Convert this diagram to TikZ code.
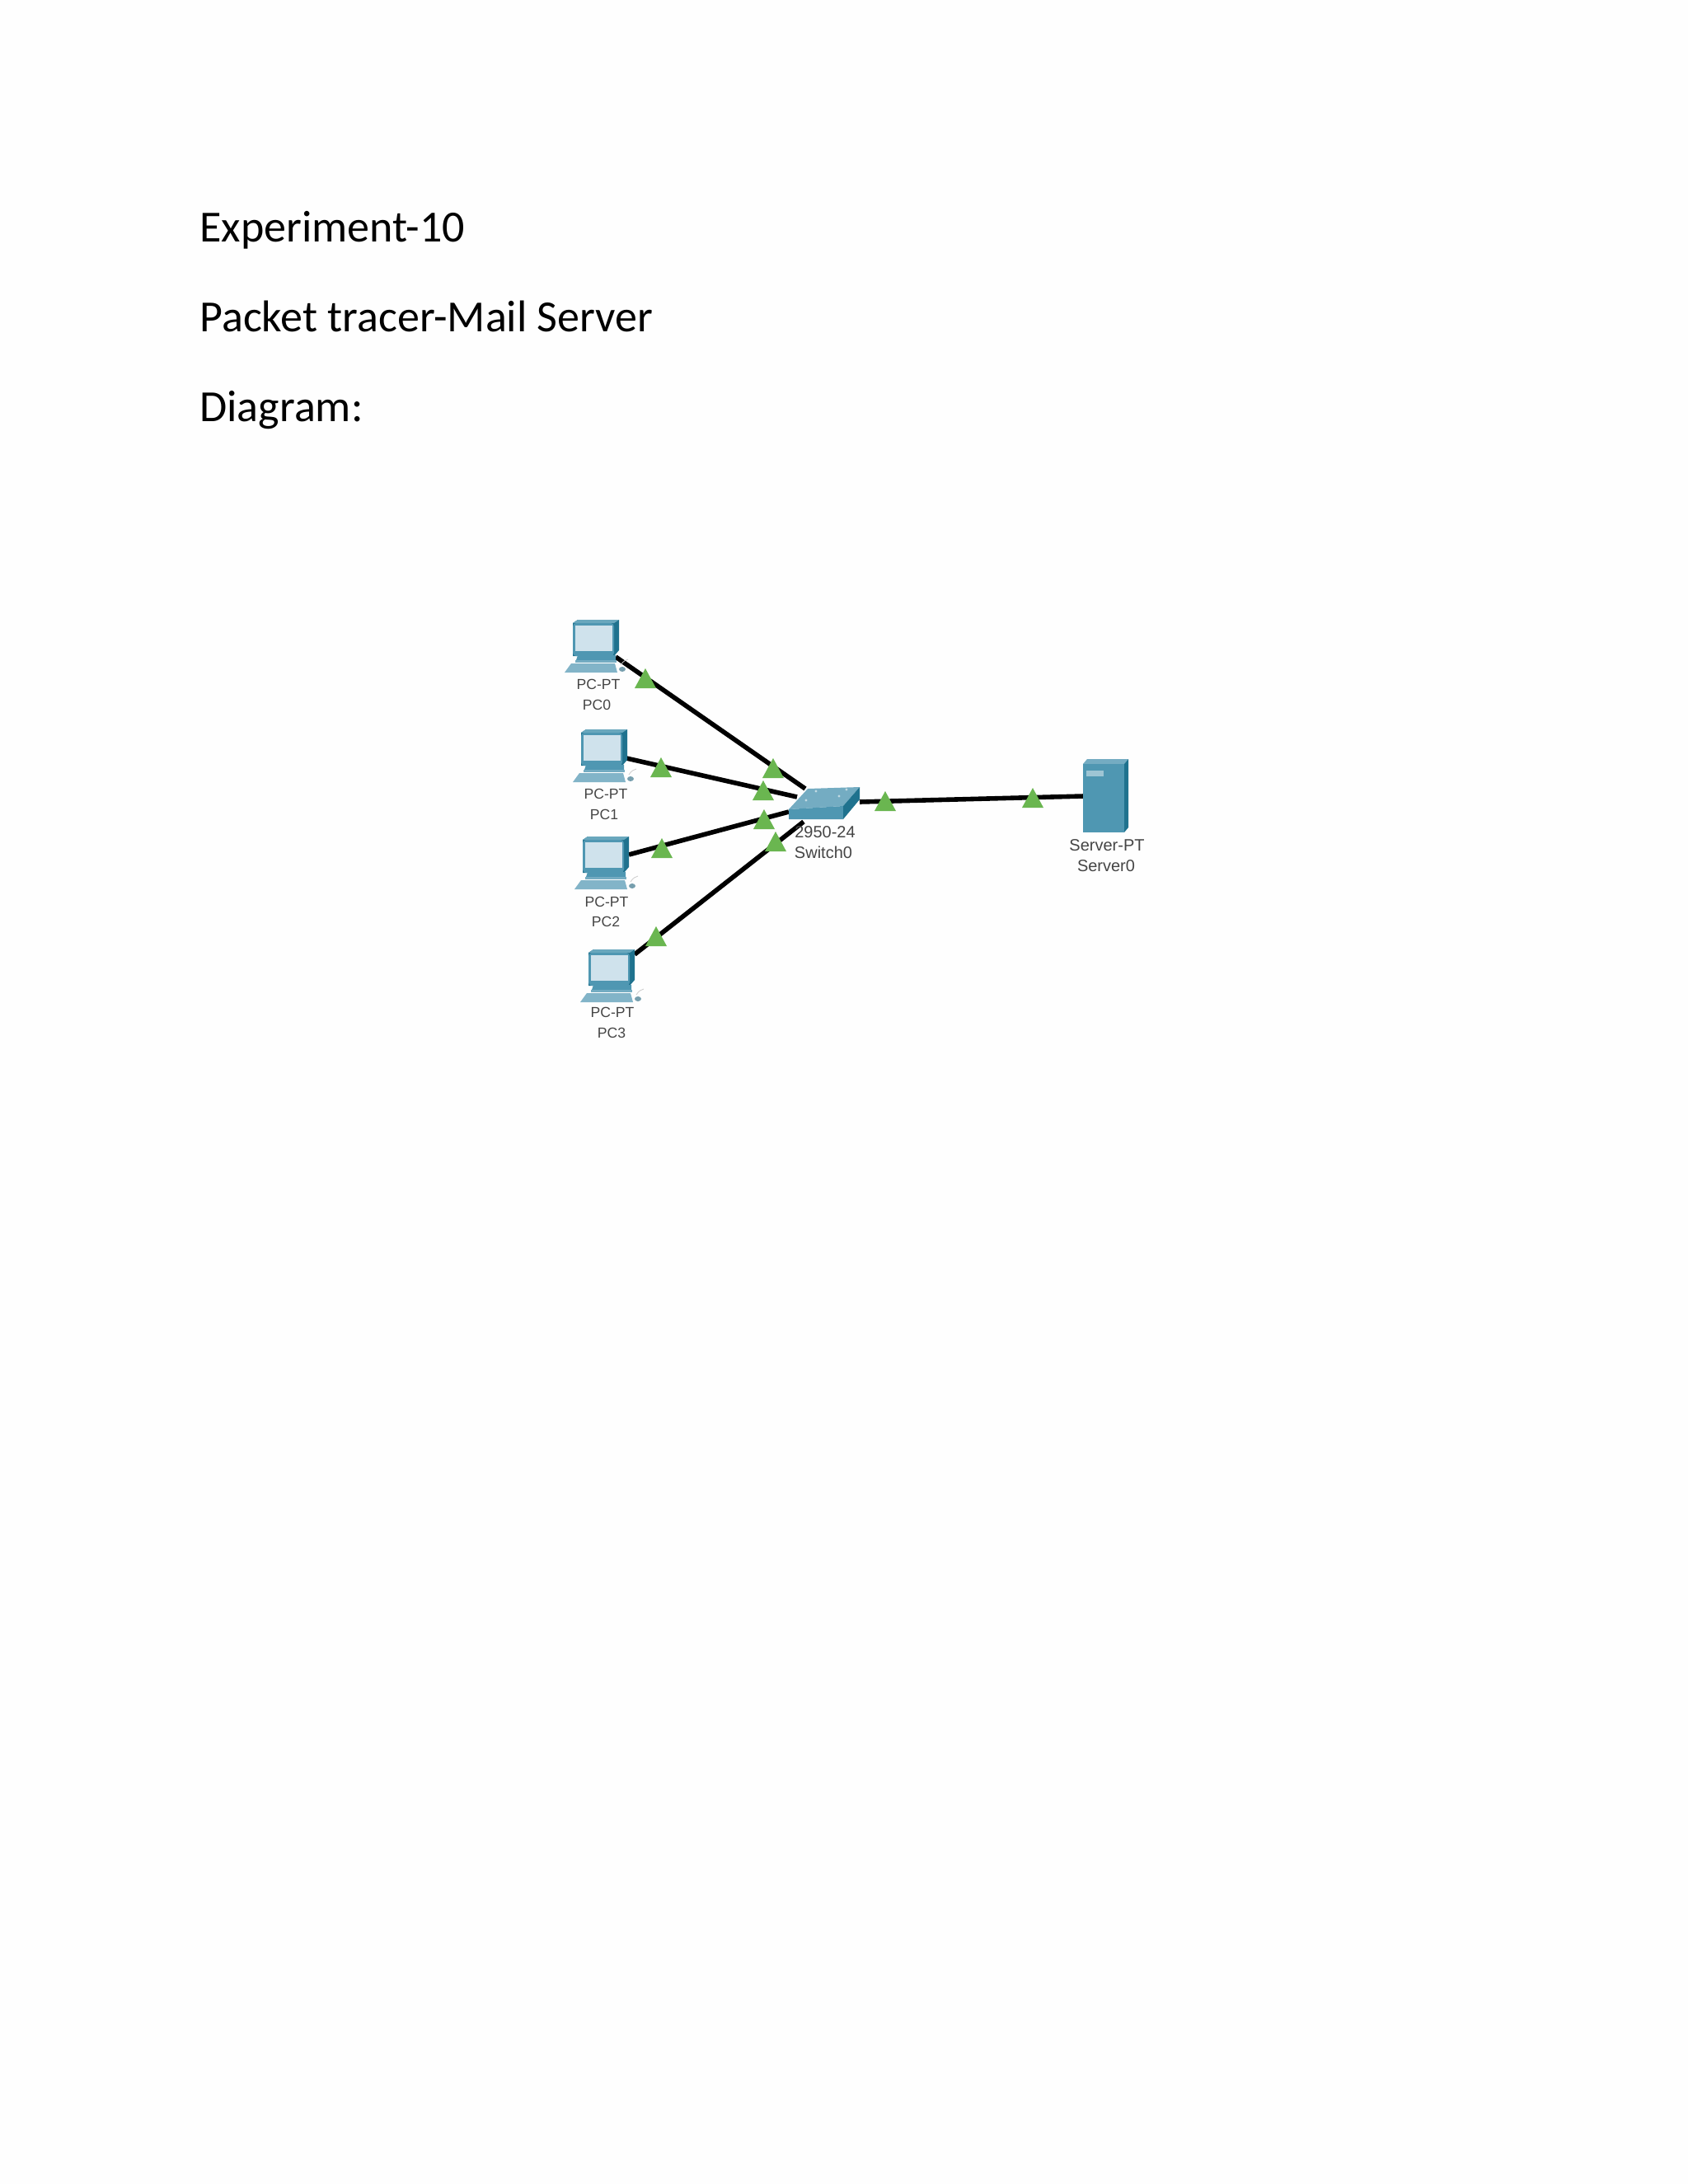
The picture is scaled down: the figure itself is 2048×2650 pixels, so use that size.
\documentclass[tikz,border=0pt]{standalone}
\usepackage{fontspec}
\setmainfont{Carlito}
\newfontfamily\lblfont{Liberation Sans}
\definecolor{pageback}{HTML}{FEFEFE}
\definecolor{bodymid}{HTML}{4F97B2}
\definecolor{bodydark}{HTML}{1F728E}
\definecolor{bodylight}{HTML}{74ACC2}
\definecolor{screenc}{HTML}{CFE2EC}
\definecolor{triang}{HTML}{6AB650}
\definecolor{lblc}{HTML}{454545}
\tikzset{
  x=0.5pt,y=-0.5pt,
  heading/.style={anchor=base west,inner sep=0pt,font=\fontsize{27pt}{34pt}\selectfont,text=black},
  devlabel/.style={inner sep=0pt,font=\lblfont\fontsize{10pt}{12pt}\selectfont,text=lblc},
  pclabel/.style={inner sep=0pt,font=\lblfont\fontsize{8.8pt}{12pt}\selectfont,text=lblc},
  cable/.style={line width=2.8pt,black},
  linkup/.pic={\fill[triang] (0,-1)--(13,23)--(-13,23)--cycle;},
  pcdev/.pic={
    \fill[bodydark] (2,4)--(8,0)--(58,0)--(58,37)--(52,44)--(2,44)--cycle;
    \fill[bodymid!85!white] (2,4)--(8,0)--(58,0)--(52,4)--cycle;
    \fill[bodymid,rounded corners=2pt] (2,4) rectangle (52,44);
    \fill[screenc] (5,7) rectangle (50,38);
    \fill[bodymid] (8,43)--(54,43)--(54,49)--(6,49)--cycle;
    \fill[bodylight] (5,49) rectangle (55,52);
    \fill[bodylight!90!white] (0,53)--(53,53)--(56,64)--(-8,64)--cycle;
    \fill[bodylight!70!gray] (62,60) ellipse (4 and 3);
    \draw[gray!40,line width=0.4pt] (60,55) .. controls (63,50) and (66,49) .. (69,48);
  }
}
\begin{document}
\begin{tikzpicture}
\useasboundingbox (0,0) rectangle (2048,2650);
\fill[pageback] (0,0) rectangle (2048,2650);

% headings
\node[heading] (h1) at (242,293) {Experiment-10};
\node[heading] (h2) at (242,402) {Packet tracer-Mail Server};
\node[heading] (h3) at (242,511) {Diagram:};

% ports
\coordinate (p0a) at (747,797);
\coordinate (p0b) at (977,957);
\coordinate (p1a) at (760,920);
\coordinate (p1b) at (967,967);
\coordinate (p2a) at (763,1037);
\coordinate (p2b) at (957,985);
\coordinate (p3a) at (770,1158);
\coordinate (p3b) at (975,997);
\coordinate (swr) at (1043,973);
\coordinate (srv) at (1315,966);

% cables
\draw[cable] (p0a) -- (p0b);
\draw[cable] (p1a) -- (p1b);
\draw[cable] (p2a) -- (p2b);
\draw[cable] (p3a) -- (p3b);
\draw[cable] (swr) -- (srv);

% PCs
\pic at (693,752) {pcdev};
\pic at (703,885) {pcdev};
\pic at (705,1015) {pcdev};
\pic at (712,1152) {pcdev};

% switch
\fill[bodylight] (957,982)--(980,957)--(1043,955)--(1023,978)--cycle;
\fill[bodymid] (957,982)--(1023,978)--(1023,994)--(957,994)--cycle;
\fill[bodydark] (1023,978)--(1043,955)--(1043,970)--(1023,994)--cycle;
\foreach \dx/\dy in {978/971,990/960,1018/966,1027/958}
  \fill[white!55!bodylight] (\dx,\dy) circle (1.6);

% server
\fill[bodylight] (1314,927)--(1319,921)--(1369,921)--(1364,927)--cycle;
\fill[bodymid] (1314,927) rectangle (1364,1010);
\fill[bodydark] (1364,927)--(1369,921)--(1369,1004)--(1364,1010)--cycle;
\fill[bodylight!70!white] (1318,935) rectangle (1339,942);

% link lights
\foreach \tx/\ty in {783/812,938/921,802/920,926/948,803/1018,927/983,796/1125,941/1010,1074/961,1253/957}
  \pic at (\tx,\ty) {linkup};

% labels
\node[pclabel] (pc0t) at (726,830) {PC-PT};
\node[pclabel] (pc0n) at (724,855) {PC0};
\node[pclabel] (pc1t) at (735,963) {PC-PT};
\node[pclabel] (pc1n) at (733,988) {PC1};
\node[pclabel] (pc2t) at (736,1094) {PC-PT};
\node[pclabel] (pc2n) at (735,1118) {PC2};
\node[pclabel] (pc3t) at (743,1228) {PC-PT};
\node[pclabel] (pc3n) at (742,1253) {PC3};
\node[devlabel] (swt) at (1001,1010) {2950-24};
\node[devlabel] (swn) at (999,1034) {Switch0};
\node[devlabel] (srt) at (1343,1026) {Server-PT};
\node[devlabel] (srn) at (1342,1051) {Server0};
\end{tikzpicture}
\end{document}
